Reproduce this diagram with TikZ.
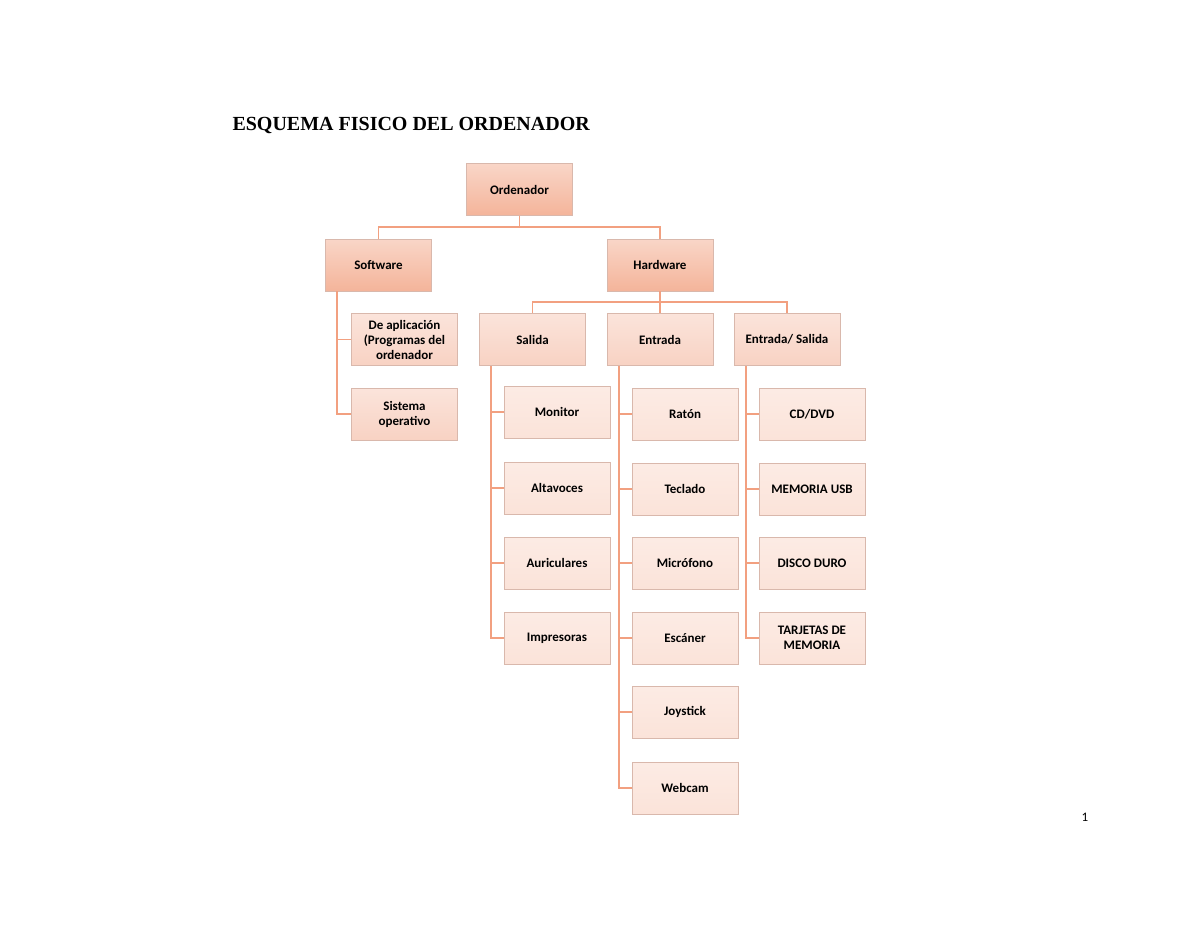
\documentclass[tikz,border=0pt]{standalone}
\usepackage{fontspec}
\setmainfont{Carlito}
\newfontfamily\titlefont{Liberation Serif}
\definecolor{lnc}{HTML}{F2A080}
\definecolor{bdc}{HTML}{C89A88}
\definecolor{c1}{HTML}{F4B49A}
\definecolor{c2}{HTML}{F8D2C3}
\definecolor{c3}{HTML}{FBE3D9}
\tikzset{
 bx/.style={draw=bdc!70,line width=0.8pt,minimum width=106pt,minimum height=52pt,align=center,font=\bfseries\fontsize{13}{15}\selectfont,inner sep=1pt},
 l1/.style={bx,top color=c1!55!white,bottom color=c1},
 l2/.style={bx,top color=c2!60!white,bottom color=c2},
 l3/.style={bx,top color=c3!70!white,bottom color=c3},
 ln/.style={draw=lnc,line width=1.6pt},
}
\begin{document}
\begin{tikzpicture}[x=1pt,y=-1pt]
\useasboundingbox (0,0) rectangle (1200,927);
\node[anchor=base west,font=\titlefont\bfseries\fontsize{20}{24}\selectfont] (t) at (229,130) {ESQUEMA FISICO DEL ORDENADOR};
\node[font=\fontsize{13}{15}\selectfont] (pg) at (1085,817) {1};
\node[l1] (ord) at (519.5,189.5) {Ordenador};
\node[l1] (sw) at (378.5,265) {Software};
\node[l1] (hw) at (660,265) {Hardware};
\node[l2] (apl) at (404.5,339.5) {De aplicación\\(Programas del\\ordenador};
\node[l2] (so) at (404.5,414) {Sistema\\operativo};
\node[l2] (sal) at (532.5,339.5) {Salida};
\node[l2] (ent) at (660,339.5) {Entrada};
\node[l2] (es) at (787,339.5) {Entrada/ Salida};
\foreach \n/\t/\y in {mon/Monitor/412,alt/Altavoces/488,aur/Auriculares/563,imp/Impresoras/638}
  \node[l3] (\n) at (557,\y) {\t};
\foreach \n/\t/\y in {rat/Ratón/414,tec/Teclado/489,mic/Micrófono/563,esc/Escáner/638,joy/Joystick/712,web/Webcam/788}
  \node[l3] (\n) at (685,\y) {\t};
\foreach \n/\t/\y in {cd/{CD/DVD}/414,usb/MEMORIA USB/489,dd/DISCO DURO/563,tj/{TARJETAS DE\\MEMORIA}/638}
  \node[l3] (\n) at (812,\y) {\t};
\draw[ln] (ord.south) |- (378.5,227) -- (sw.north);
\draw[ln] (ord.south) |- (660,227) -- (hw.north);
\draw[ln] (hw.south) |- (532.5,302) -- (sal.north);
\draw[ln] (hw.south) -- (ent.north);
\draw[ln] (hw.south) |- (787,302) -- (es.north);
\foreach \c in {apl,so} \draw[ln] (337,291) |- (\c.west);
\foreach \c in {mon,alt,aur,imp} \draw[ln] (491,366) |- (\c.west);
\foreach \c in {rat,tec,mic,esc,joy,web} \draw[ln] (619,366) |- (\c.west);
\foreach \c in {cd,usb,dd,tj} \draw[ln] (746,366) |- (\c.west);
\end{tikzpicture}
\end{document}
